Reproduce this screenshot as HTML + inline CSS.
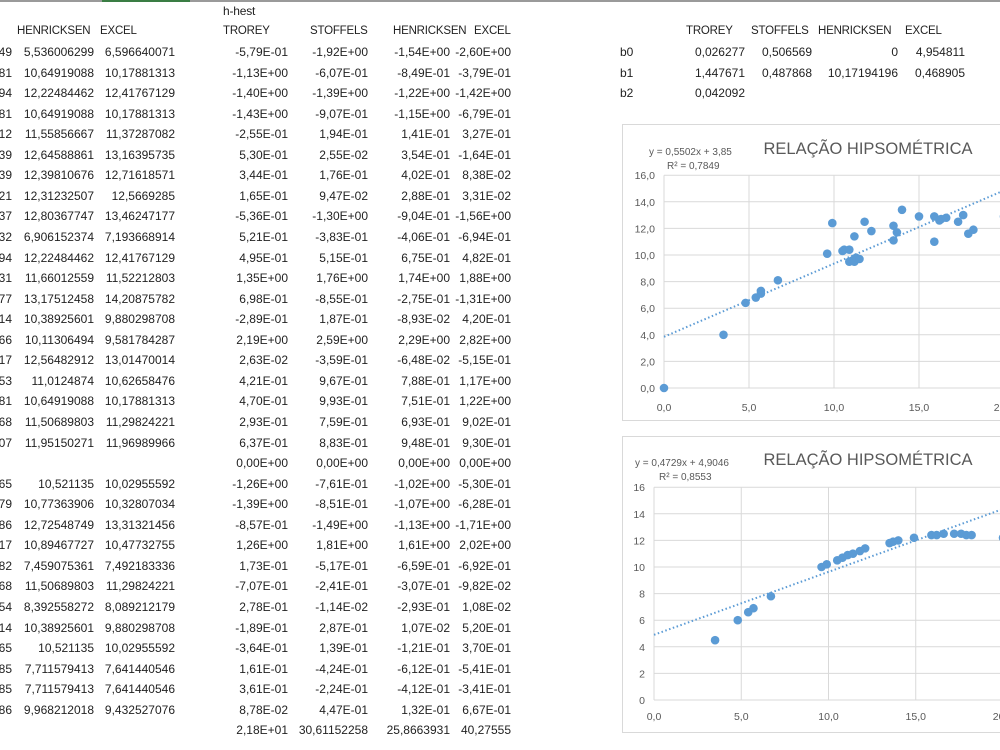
<!DOCTYPE html>
<html><head><meta charset="utf-8">
<style>
body{margin:0;width:1000px;height:750px;background:#fff;overflow:hidden;position:relative;font-family:"Liberation Sans",sans-serif;font-size:12px;color:#222}
.r{position:absolute;left:0;width:1000px;height:20px}
.r span{position:absolute;white-space:nowrap}
.a{right:988px}.b{right:906px}.c{right:825px}.d{right:712px}.e{right:632px}.f{right:550px}.g{right:489px}
.h{position:absolute;white-space:nowrap;font-size:11.5px;letter-spacing:-0.2px}
</style></head><body>
<div style="position:absolute;left:0;top:0;width:1000px;height:2px;background:#9a9a9a"></div>
<div style="position:absolute;left:102px;top:0;width:88px;height:2px;background:#3a7d44"></div>
<div class="h" style="left:223px;top:4px;font-size:12px">h-hest</div>
<div class="h" style="left:17px;top:25px">HENRICKSEN</div>
<div class="h" style="left:100px;top:25px">EXCEL</div>
<div class="h" style="left:223px;top:25px">TROREY</div>
<div class="h" style="left:310px;top:25px">STOFFELS</div>
<div class="h" style="left:393px;top:25px">HENRICKSEN</div>
<div class="h" style="left:474px;top:25px">EXCEL</div>

<div id="tbl">
<div class="r" style="top:45px"><span class="a">49</span><span class="b">5,536006299</span><span class="c">6,596640071</span><span class="d">-5,79E-01</span><span class="e">-1,92E+00</span><span class="f">-1,54E+00</span><span class="g">-2,60E+00</span></div>
<div class="r" style="top:65.5px"><span class="a">81</span><span class="b">10,64919088</span><span class="c">10,17881313</span><span class="d">-1,13E+00</span><span class="e">-6,07E-01</span><span class="f">-8,49E-01</span><span class="g">-3,79E-01</span></div>
<div class="r" style="top:86px"><span class="a">94</span><span class="b">12,22484462</span><span class="c">12,41767129</span><span class="d">-1,40E+00</span><span class="e">-1,39E+00</span><span class="f">-1,22E+00</span><span class="g">-1,42E+00</span></div>
<div class="r" style="top:106.6px"><span class="a">81</span><span class="b">10,64919088</span><span class="c">10,17881313</span><span class="d">-1,43E+00</span><span class="e">-9,07E-01</span><span class="f">-1,15E+00</span><span class="g">-6,79E-01</span></div>
<div class="r" style="top:127.2px"><span class="a">12</span><span class="b">11,55856667</span><span class="c">11,37287082</span><span class="d">-2,55E-01</span><span class="e">1,94E-01</span><span class="f">1,41E-01</span><span class="g">3,27E-01</span></div>
<div class="r" style="top:147.7px"><span class="a">39</span><span class="b">12,64588861</span><span class="c">13,16395735</span><span class="d">5,30E-01</span><span class="e">2,55E-02</span><span class="f">3,54E-01</span><span class="g">-1,64E-01</span></div>
<div class="r" style="top:168.3px"><span class="a">39</span><span class="b">12,39810676</span><span class="c">12,71618571</span><span class="d">3,44E-01</span><span class="e">1,76E-01</span><span class="f">4,02E-01</span><span class="g">8,38E-02</span></div>
<div class="r" style="top:188.8px"><span class="a">21</span><span class="b">12,31232507</span><span class="c">12,5669285</span><span class="d">1,65E-01</span><span class="e">9,47E-02</span><span class="f">2,88E-01</span><span class="g">3,31E-02</span></div>
<div class="r" style="top:209.4px"><span class="a">37</span><span class="b">12,80367747</span><span class="c">13,46247177</span><span class="d">-5,36E-01</span><span class="e">-1,30E+00</span><span class="f">-9,04E-01</span><span class="g">-1,56E+00</span></div>
<div class="r" style="top:230px"><span class="a">32</span><span class="b">6,906152374</span><span class="c">7,193668914</span><span class="d">5,21E-01</span><span class="e">-3,83E-01</span><span class="f">-4,06E-01</span><span class="g">-6,94E-01</span></div>
<div class="r" style="top:250.5px"><span class="a">94</span><span class="b">12,22484462</span><span class="c">12,41767129</span><span class="d">4,95E-01</span><span class="e">5,15E-01</span><span class="f">6,75E-01</span><span class="g">4,82E-01</span></div>
<div class="r" style="top:271px"><span class="a">31</span><span class="b">11,66012559</span><span class="c">11,52212803</span><span class="d">1,35E+00</span><span class="e">1,76E+00</span><span class="f">1,74E+00</span><span class="g">1,88E+00</span></div>
<div class="r" style="top:291.6px"><span class="a">77</span><span class="b">13,17512458</span><span class="c">14,20875782</span><span class="d">6,98E-01</span><span class="e">-8,55E-01</span><span class="f">-2,75E-01</span><span class="g">-1,31E+00</span></div>
<div class="r" style="top:312.2px"><span class="a">14</span><span class="b">10,38925601</span><span class="c">9,880298708</span><span class="d">-2,89E-01</span><span class="e">1,87E-01</span><span class="f">-8,93E-02</span><span class="g">4,20E-01</span></div>
<div class="r" style="top:332.7px"><span class="a">66</span><span class="b">10,11306494</span><span class="c">9,581784287</span><span class="d">2,19E+00</span><span class="e">2,59E+00</span><span class="f">2,29E+00</span><span class="g">2,82E+00</span></div>
<div class="r" style="top:353.2px"><span class="a">17</span><span class="b">12,56482912</span><span class="c">13,01470014</span><span class="d">2,63E-02</span><span class="e">-3,59E-01</span><span class="f">-6,48E-02</span><span class="g">-5,15E-01</span></div>
<div class="r" style="top:373.8px"><span class="a">53</span><span class="b">11,0124874</span><span class="c">10,62658476</span><span class="d">4,21E-01</span><span class="e">9,67E-01</span><span class="f">7,88E-01</span><span class="g">1,17E+00</span></div>
<div class="r" style="top:394.4px"><span class="a">81</span><span class="b">10,64919088</span><span class="c">10,17881313</span><span class="d">4,70E-01</span><span class="e">9,93E-01</span><span class="f">7,51E-01</span><span class="g">1,22E+00</span></div>
<div class="r" style="top:415px"><span class="a">68</span><span class="b">11,50689803</span><span class="c">11,29824221</span><span class="d">2,93E-01</span><span class="e">7,59E-01</span><span class="f">6,93E-01</span><span class="g">9,02E-01</span></div>
<div class="r" style="top:435.5px"><span class="a">07</span><span class="b">11,95150271</span><span class="c">11,96989966</span><span class="d">6,37E-01</span><span class="e">8,83E-01</span><span class="f">9,48E-01</span><span class="g">9,30E-01</span></div>
<div class="r" style="top:456px"><span class="d">0,00E+00</span><span class="e">0,00E+00</span><span class="f">0,00E+00</span><span class="g">0,00E+00</span></div>
<div class="r" style="top:476.6px"><span class="a">65</span><span class="b">10,521135</span><span class="c">10,02955592</span><span class="d">-1,26E+00</span><span class="e">-7,61E-01</span><span class="f">-1,02E+00</span><span class="g">-5,30E-01</span></div>
<div class="r" style="top:497.2px"><span class="a">79</span><span class="b">10,77363906</span><span class="c">10,32807034</span><span class="d">-1,39E+00</span><span class="e">-8,51E-01</span><span class="f">-1,07E+00</span><span class="g">-6,28E-01</span></div>
<div class="r" style="top:517.7px"><span class="a">86</span><span class="b">12,72548749</span><span class="c">13,31321456</span><span class="d">-8,57E-01</span><span class="e">-1,49E+00</span><span class="f">-1,13E+00</span><span class="g">-1,71E+00</span></div>
<div class="r" style="top:538.3px"><span class="a">17</span><span class="b">10,89467727</span><span class="c">10,47732755</span><span class="d">1,26E+00</span><span class="e">1,81E+00</span><span class="f">1,61E+00</span><span class="g">2,02E+00</span></div>
<div class="r" style="top:558.8px"><span class="a">82</span><span class="b">7,459075361</span><span class="c">7,492183336</span><span class="d">1,73E-01</span><span class="e">-5,17E-01</span><span class="f">-6,59E-01</span><span class="g">-6,92E-01</span></div>
<div class="r" style="top:579.4px"><span class="a">68</span><span class="b">11,50689803</span><span class="c">11,29824221</span><span class="d">-7,07E-01</span><span class="e">-2,41E-01</span><span class="f">-3,07E-01</span><span class="g">-9,82E-02</span></div>
<div class="r" style="top:600px"><span class="a">54</span><span class="b">8,392558272</span><span class="c">8,089212179</span><span class="d">2,78E-01</span><span class="e">-1,14E-02</span><span class="f">-2,93E-01</span><span class="g">1,08E-02</span></div>
<div class="r" style="top:620.5px"><span class="a">14</span><span class="b">10,38925601</span><span class="c">9,880298708</span><span class="d">-1,89E-01</span><span class="e">2,87E-01</span><span class="f">1,07E-02</span><span class="g">5,20E-01</span></div>
<div class="r" style="top:641px"><span class="a">65</span><span class="b">10,521135</span><span class="c">10,02955592</span><span class="d">-3,64E-01</span><span class="e">1,39E-01</span><span class="f">-1,21E-01</span><span class="g">3,70E-01</span></div>
<div class="r" style="top:661.6px"><span class="a">85</span><span class="b">7,711579413</span><span class="c">7,641440546</span><span class="d">1,61E-01</span><span class="e">-4,24E-01</span><span class="f">-6,12E-01</span><span class="g">-5,41E-01</span></div>
<div class="r" style="top:682.2px"><span class="a">85</span><span class="b">7,711579413</span><span class="c">7,641440546</span><span class="d">3,61E-01</span><span class="e">-2,24E-01</span><span class="f">-4,12E-01</span><span class="g">-3,41E-01</span></div>
<div class="r" style="top:702.7px"><span class="a">86</span><span class="b">9,968212018</span><span class="c">9,432527076</span><span class="d">8,78E-02</span><span class="e">4,47E-01</span><span class="f">1,32E-01</span><span class="g">6,67E-01</span></div>
<div class="r" style="top:723.2px"><span class="d">2,18E+01</span><span class="e">30,61152258</span><span class="f">25,8663931</span><span class="g">40,27555</span></div>
</div>

<div>
<div class="h" style="left:686px;top:25px">TROREY</div>
<div class="h" style="left:751px;top:25px">STOFFELS</div>
<div class="h" style="left:818px;top:25px">HENRICKSEN</div>
<div class="h" style="left:905px;top:25px">EXCEL</div>
<div class="r" style="top:45px"><span style="left:620px">b0</span><span style="right:255px">0,026277</span><span style="right:188px">0,506569</span><span style="right:102px">0</span><span style="right:35px">4,954811</span></div>
<div class="r" style="top:65.5px"><span style="left:620px">b1</span><span style="right:255px">1,447671</span><span style="right:188px">0,487868</span><span style="right:102px">10,17194196</span><span style="right:35px">0,468905</span></div>
<div class="r" style="top:86px"><span style="left:620px">b2</span><span style="right:255px">0,042092</span></div>
</div>

<svg id="charts" width="1000" height="750" style="position:absolute;left:0;top:0" font-family="Liberation Sans, sans-serif">
<rect x="622.5" y="124.5" width="400" height="296" fill="#fff" stroke="#d9d9d9"/>
<rect x="622.5" y="436.5" width="400" height="296" fill="#fff" stroke="#d9d9d9"/>
<text x="868" y="154" text-anchor="middle" font-size="16.5" fill="#595959">RELAÇÃO HIPSOMÉTRICA</text>
<text x="649" y="155" font-size="10" fill="#595959">y = 0,5502x + 3,85</text>
<text x="667" y="169" font-size="10" fill="#595959">R² = 0,7849</text>
<text x="868" y="465" text-anchor="middle" font-size="16.5" fill="#595959">RELAÇÃO HIPSOMÉTRICA</text>
<text x="635" y="466" font-size="10" fill="#595959">y = 0,4729x + 4,9046</text>
<text x="659" y="480" font-size="10" fill="#595959">R² = 0,8553</text>
<g id="c1"></g><g id="c2"></g>
</svg>
<script>
const c1X=[0,3.5,4.8,5.4,5.7,5.7,6.7,9.6,9.9,10.5,10.6,10.9,10.9,11.1,11.2,11.2,11.3,11.5,11.2,11.8,12.2,13.5,13.5,13.7,14.0,15.0,15.9,15.9,16.2,16.3,16.6,17.3,17.6,17.9,18.2,20.0];
const c1Y=[0,4.0,6.4,6.8,7.1,7.3,8.1,10.1,12.4,10.3,10.4,10.4,9.5,9.6,9.5,9.7,9.8,9.7,11.4,12.5,11.8,12.2,11.1,11.7,13.4,12.9,11.0,12.9,12.6,12.7,12.8,12.5,13.0,11.6,11.9,12.9];
const c1Trend=[0.5502,3.85];
const c1YTicks=["0,0","2,0","4,0","6,0","8,0","10,0","12,0","14,0","16,0"];
const c2X=[3.5,4.8,5.4,5.7,6.7,9.6,9.9,10.5,10.8,11.1,11.4,11.8,12.1,13.5,13.7,14.0,14.9,15.9,16.2,16.6,17.2,17.6,17.9,18.2,20.0];
const c2Y=[4.5,6.0,6.6,6.9,7.8,10.0,10.2,10.5,10.7,10.9,11.0,11.2,11.4,11.8,11.9,12.0,12.2,12.4,12.4,12.5,12.5,12.5,12.4,12.4,12.2];
const c2Trend=[0.4729,4.9046];
const c2YTicks=["0","2","4","6","8","10","12","14","16"];
const xTicks=["0,0","5,0","10,0","15,0","20,0"];
const NS="http://www.w3.org/2000/svg";
function mk(g,t,a){const e=document.createElementNS(NS,t);for(const k in a)e.setAttribute(k,a[k]);g.appendChild(e);return e;}
function draw(id,X,Y,tr,yt,x0,xs,y0,ys,ylx,xly,pre){
 const g=document.getElementById(id);
 const sx=v=>x0+v*xs, sy=v=>y0-v*ys;
 yt.forEach((t,i)=>{const v=i*2;
  const l=mk(g,'line',{x1:x0,x2:1000,y1:sy(v),y2:sy(v),stroke:'#d9d9d9'});
  
  
  const tx=mk(g,'text',{x:ylx,y:sy(v)+4,'text-anchor':'end','font-size':'10.5',fill:'#595959'});tx.textContent=t;
  
  });
 xTicks.forEach((t,i)=>{const v=i*5;
  const l=mk(g,'line',{x1:sx(v),x2:sx(v),y1:sy(16),y2:sy(0),stroke:'#d9d9d9'});
  
  
  const tx=mk(g,'text',{x:sx(v),y:xly,'text-anchor':'middle','font-size':'10.5',fill:'#595959'});tx.textContent=t;
  
  });
 const tl=mk(g,'line',{x1:sx(0),y1:sy(tr[1]),x2:sx(21),y2:sy(tr[0]*21+tr[1]),stroke:'#5b9bd5','stroke-width':2,'stroke-dasharray':'1.5 2.5'});
 
 
 X.forEach((v,i)=>{const c=mk(g,'circle',{cx:sx(v),cy:sy(Y[i]),r:4.3,fill:'#5b9bd5'});
  
  });
}
draw('c1',c1X,c1Y,c1Trend,c1YTicks,664,17,388,13.3,655,411,'chart1');
draw('c2',c2X,c2Y,c2Trend,c2YTicks,654,17.45,700,13.3,645,720,'chart2');
</script>
</body></html>
